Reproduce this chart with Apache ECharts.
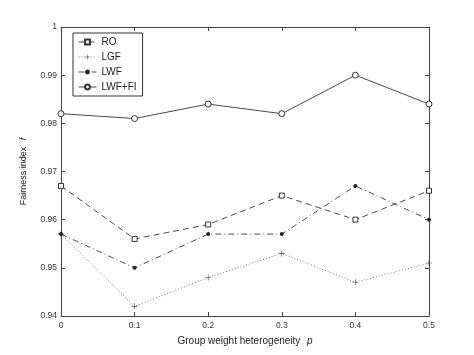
<!DOCTYPE html>
<html><head><meta charset="utf-8">
<script src="https://cdn.jsdelivr.net/npm/echarts@6/dist/echarts.min.js"></script>
<style>html,body{margin:0;padding:0;background:#fff}#c{width:474px;height:355px}</style>
</head><body><div id="c"></div>
<script>
const xValues = [0, 0.1, 0.2, 0.3, 0.4, 0.5];
const seriesNames = ['RO', 'LGF', 'LWF', 'LWF+FI'];
const ro    = [0.967, 0.956, 0.959, 0.965, 0.960, 0.966];
const lgf   = [0.957, 0.942, 0.948, 0.953, 0.947, 0.951];
const lwf   = [0.957, 0.950, 0.957, 0.957, 0.967, 0.960];
const lwffi = [0.982, 0.981, 0.984, 0.982, 0.990, 0.984];
const yTicks = [0.94, 0.95, 0.96, 0.97, 0.98, 0.99, 1];
const xTicks = [0, 0.1, 0.2, 0.3, 0.4, 0.5];

const pair = v => xValues.map((x, i) => [x, v[i]]);
const font = 'Liberation Sans, Arial, sans-serif';
const axisCol = '#444';
const plusPath = 'path://M4.5,0h1v4.5h4.5v1h-4.5v4.5h-1v-4.5h-4.5v-1h4.5z';

const chart = echarts.init(document.getElementById('c'), null, {renderer: 'canvas'});
const baseAxis = {
  axisLine: {show: true, onZero: false, lineStyle: {color: axisCol, width: 1}},
  axisTick: {show: true, inside: true, length: 4, lineStyle: {color: axisCol}},
  splitLine: {show: false}
};
chart.setOption({
  animation: false,
  backgroundColor: '#fff',
  grid: {left: 61, right: 45, top: 27, bottom: 39},
  legend: {
    orient: 'vertical', left: 73, top: 33,
    itemWidth: 18, itemHeight: 6, itemGap: 5,
    padding: [4, 6, 4, 5],
    borderColor: '#333', borderWidth: 1, backgroundColor: '#fff',
    lineStyle: {width: 1},
    textStyle: {fontFamily: font, fontSize: 10, color: '#222'},
    data: seriesNames
  },
  xAxis: [
    Object.assign({}, baseAxis, {
      type: 'value', min: 0, max: 0.5, interval: 0.1, position: 'bottom',
      name: '{a|Group weight heterogeneity}  {b|p}', nameLocation: 'middle', nameGap: 19,
      nameTextStyle: {rich: {
        a: {fontFamily: font, fontSize: 10, color: '#222'},
        b: {fontFamily: font, fontSize: 10, color: '#222', fontStyle: 'italic'}}},
      axisLabel: {fontFamily: font, fontSize: 8.5, color: '#333', margin: 5,
        formatter: v => String(xTicks.find(t => Math.abs(t - v) < 1e-9) ?? v)}
    }),
    Object.assign({}, baseAxis, {
      type: 'value', min: 0, max: 0.5, interval: 0.1, position: 'top',
      axisLabel: {show: false}
    })
  ],
  yAxis: [
    Object.assign({}, baseAxis, {
      type: 'value', min: 0.94, max: 1, interval: 0.01, position: 'left',
      name: '{a|Fairness index}  {b|f}', nameLocation: 'middle', nameGap: 31, nameRotate: 90,
      nameTextStyle: {rich: {
        a: {fontFamily: font, fontSize: 9, color: '#222'},
        b: {fontFamily: font, fontSize: 9, color: '#222', fontStyle: 'italic'}}},
      axisLabel: {fontFamily: font, fontSize: 8.5, color: '#333', margin: 4,
        formatter: v => { const t = yTicks.find(t => Math.abs(t - v) < 1e-9); return t === undefined ? '' : String(t); }}
    }),
    Object.assign({}, baseAxis, {
      type: 'value', min: 0.94, max: 1, interval: 0.01, position: 'right',
      axisLabel: {show: false}
    })
  ],
  series: [
    {name: 'RO', type: 'line', data: pair(ro), symbol: 'rect', symbolSize: 5,
      lineStyle: {color: '#4a4a4a', width: 1, type: [6, 4]},
      itemStyle: {color: '#fff', borderColor: '#333', borderWidth: 1}},
    {name: 'LGF', type: 'line', data: pair(lgf), symbol: plusPath, symbolSize: 6,
      lineStyle: {color: '#777', width: 1, type: [1, 2]}, itemStyle: {color: '#444'}},
    {name: 'LWF', type: 'line', data: pair(lwf), symbol: 'circle', symbolSize: 4,
      lineStyle: {color: '#4a4a4a', width: 1, type: [6, 3, 1, 3]}, itemStyle: {color: '#222'}},
    {name: 'LWF+FI', type: 'line', data: pair(lwffi), symbol: 'circle', symbolSize: 6,
      lineStyle: {color: '#4a4a4a', width: 1, type: 'solid'},
      itemStyle: {color: '#fff', borderColor: '#333', borderWidth: 1}}
  ]
});
</script></body></html>
